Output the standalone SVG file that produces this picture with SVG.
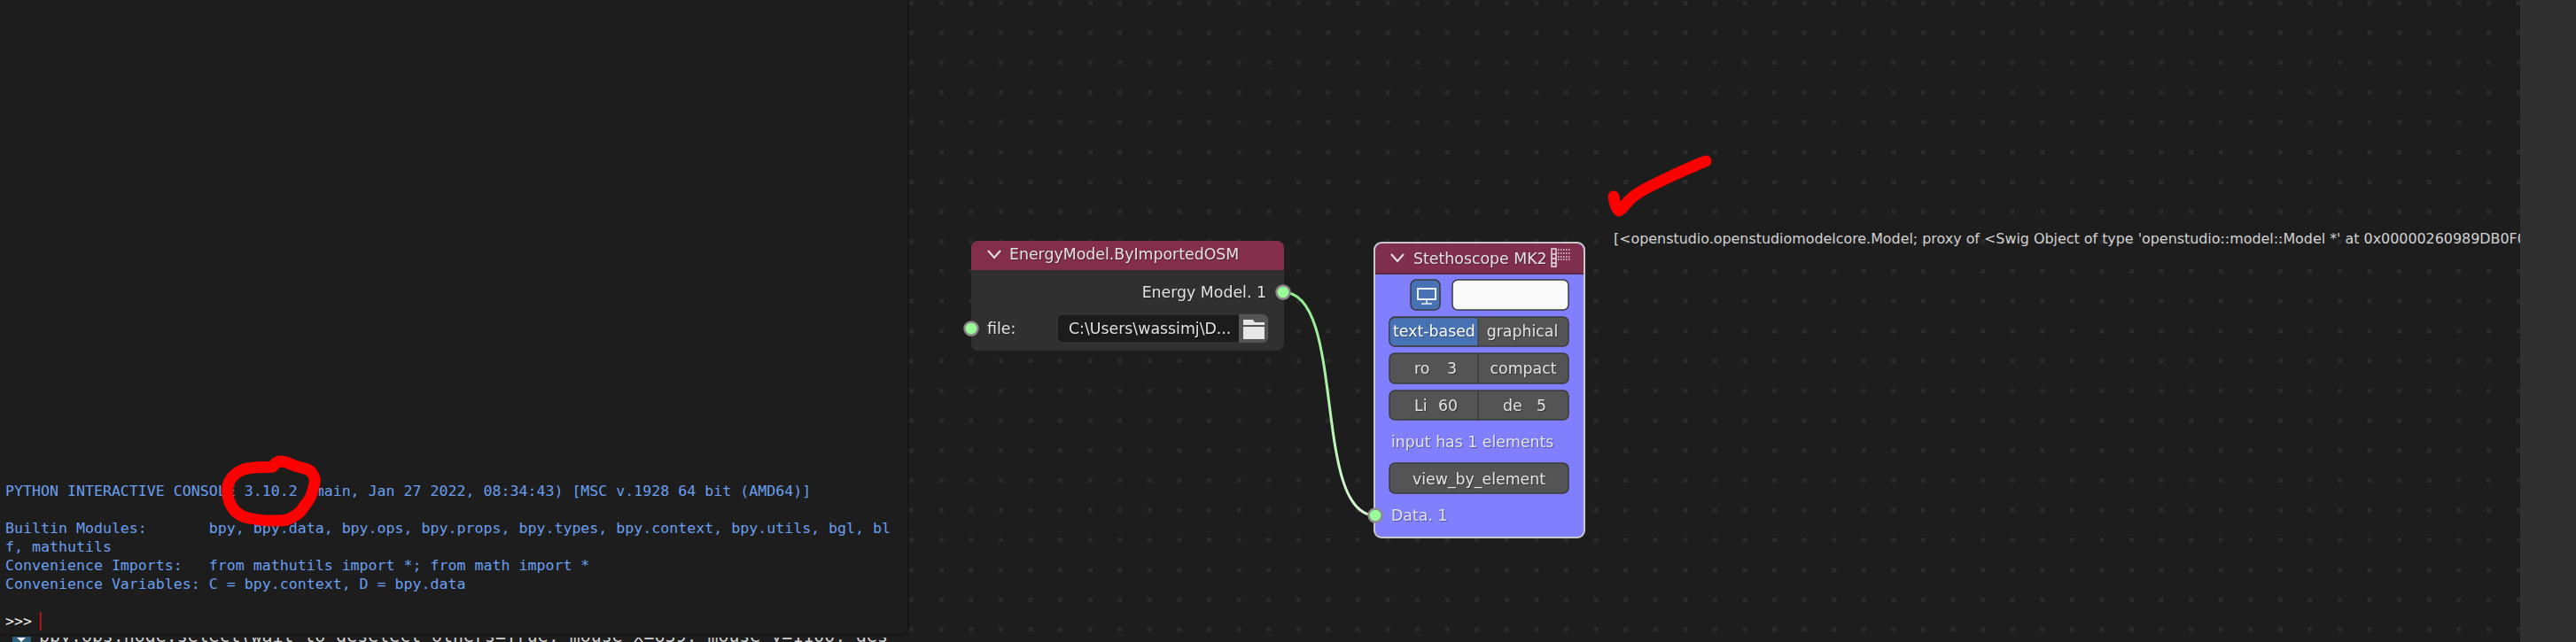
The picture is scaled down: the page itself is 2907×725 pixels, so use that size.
<svg xmlns="http://www.w3.org/2000/svg" width="2907" height="725" viewBox="0 0 2907 725">
<style>
.ui{font-family:"DejaVu Sans","Liberation Sans",sans-serif;font-size:17.35px;fill:#e2e2e2;filter:drop-shadow(1px 1px 0.6px rgba(0,0,0,.35))}
.mid{text-anchor:middle}
.con{font-family:"DejaVu Sans Mono","Liberation Mono",monospace;font-size:16.6px;fill:#6a9fee;white-space:pre}
.btn{fill:#545454;stroke:#3a3a3a;stroke-width:1.5}
.sock{fill:#99ff99;stroke:#8c8c8c;stroke-width:2.5}
.ink{fill:none;stroke:#ff0000;stroke-width:13;stroke-linecap:round;stroke-linejoin:round}
.chev{fill:none;stroke:#e2e2e2;stroke-width:2}
</style>
<defs>
<pattern id="dots" x="1059.8" y="0.8" width="33.58" height="33.7" patternUnits="userSpaceOnUse"><rect width="5" height="5" fill="#2a2a2a"/></pattern>
<linearGradient id="wire" gradientUnits="userSpaceOnUse" x1="1448" y1="330" x2="1552" y2="582"><stop offset="0" stop-color="#8fec8a"/><stop offset="1" stop-color="#d8f8d2"/></linearGradient>
<clipPath id="editorClip"><rect x="1025" y="0" width="1819" height="725"/></clipPath>
<clipPath id="infoClip"><rect x="0" y="720" width="1025" height="5"/></clipPath>
</defs>
<rect id="background" width="2907" height="725" fill="#1d1d1d"/>
<rect id="grid" x="1025" width="1819" height="725" fill="url(#dots)"/>
<rect id="sidebar" x="2844" width="63" height="725" fill="#303030"/>

<g id="console">
<rect x="-10" y="-10" width="1035" height="727" rx="9" fill="#1d1d1d" stroke="#151515" stroke-width="1.5"/>
<text class="con" x="6" y="560">PYTHON INTERACTIVE CONSOLE 3.10.2 (main, Jan 27 2022, 08:34:43) [MSC v.1928 64 bit (AMD64)]</text>
<text class="con" x="6" y="602">Builtin Modules:       bpy, bpy.data, bpy.ops, bpy.props, bpy.types, bpy.context, bpy.utils, bgl, bl</text>
<text class="con" x="6" y="623">f, mathutils</text>
<text class="con" x="6" y="644">Convenience Imports:   from mathutils import *; from math import *</text>
<text class="con" x="6" y="665">Convenience Variables: C = bpy.context, D = bpy.data</text>
<text class="con" x="6" y="707" style="fill:#f0f0f0">&gt;&gt;&gt;</text>
<rect x="45" y="691" width="1.5" height="21" fill="#e01010"/>
</g>

<g id="info-line">
<rect x="14" y="719" width="21" height="6" fill="#2c5f7c"/>
<path d="M19 720h10l-5 5z" fill="#f0f0f0"/>
<g clip-path="url(#infoClip)">
<text x="44" y="725" style="font-family:'DejaVu Sans Mono','Liberation Mono',monospace;font-size:19.9px;fill:#d0d0d0">bpy.ops.node.select(wait_to_deselect_others=True, mouse_x=639, mouse_y=1100, des</text>
</g>
</g>

<g id="connectors">
<path d="M1448 330C1520 330 1480 582 1552 582" fill="none" stroke="url(#wire)" stroke-width="3"/>
</g>

<g id="node-energy-model">
<rect x="1096" y="272" width="353" height="124" rx="8" fill="#303030"/>
<path d="M1096 305v-25a8 8 0 0 1 8-8h337a8 8 0 0 1 8 8v25z" fill="#832f4c"/>
<path class="chev" d="M1115 283l7 8l7-8"/>
<text class="ui" x="1139" y="293">EnergyModel.ByImportedOSM</text>
<text class="ui" x="1429" y="336" text-anchor="end">Energy Model. 1</text>
<text class="ui" x="1114" y="377">file:</text>
<rect x="1193" y="355" width="238" height="32" rx="6" fill="#1c1c1c" stroke="#3c3c3c"/>
<path d="M1398 355h27a6 6 0 0 1 6 6v20a6 6 0 0 1-6 6h-27z" fill="#545454"/>
<path d="M1403 361h11l2 3h11v3h-24zM1403 369h24v14h-24z" fill="#e6e6e6"/>
<text class="ui" x="1206" y="377">C:\Users\wassimj\D...</text>
<circle class="sock" cx="1096" cy="371" r="7.500"/>
<circle class="sock" cx="1448" cy="330" r="7.500"/>
</g>

<g id="node-stethoscope">
<rect x="1551" y="274" width="237" height="333" rx="8" fill="#8080ff" stroke="#c8c8c8" stroke-width="2"/>
<path d="M1552 309v-26a8 8 0 0 1 8-8h219a8 8 0 0 1 8 8v26z" fill="#7f2f4d"/>
<rect x="1552" y="308" width="235" height="2" fill="#5a2a4a"/>
<path class="chev" d="M1570 287l7 8l7-8"/>
<text class="ui" x="1595" y="298">Stethoscope MK2</text>
<path d="M1751 281h5v20h-5zM1751 287h5M1751 292h5M1751 297h5" fill="none" stroke="#e8dfe4" stroke-width="1.5"/>
<path d="M1758 282h15M1758 286h15M1758 290h15M1758 293h15" fill="none" stroke="#e8dfe4" stroke-width="1.5" stroke-dasharray="1.5 1.5"/>
<rect x="1592" y="316" width="33" height="34" rx="6" fill="#4772b3" stroke="#3a3a3a" stroke-width="1.5"/>
<rect x="1600" y="326" width="20" height="12" fill="none" stroke="#f0f0f0" stroke-width="2"/>
<path d="M1610 338v5M1604 343h12" stroke="#f0f0f0" stroke-width="1.5" fill="none"/>
<rect x="1639" y="316" width="131" height="34" rx="6" fill="#f9f9f9" stroke="#3a3a3a" stroke-width="1.5"/>
<rect class="btn" x="1568" y="358" width="202" height="33" rx="6"/>
<path d="M1668 358.700h-94a6 6 0 0 0-6 6v20a6 6 0 0 0 6 6h94z" fill="#4772b3" stroke="#3a3a3a" stroke-width="1"/>
<text class="ui" x="1572" y="380" style="fill:#fff">text-based</text>
<text class="ui mid" x="1718" y="380">graphical</text>
<rect class="btn" x="1568" y="399" width="202" height="34" rx="6"/>
<path d="M1668 399v34" stroke="#3a3a3a" stroke-width="1.5"/>
<text class="ui" y="422"><tspan x="1596">ro</tspan><tspan x="1633">3</tspan></text>
<text class="ui mid" x="1719" y="422">compact</text>
<rect class="btn" x="1568" y="441" width="202" height="33" rx="6"/>
<path d="M1668 441v33" stroke="#3a3a3a" stroke-width="1.5"/>
<text class="ui" y="464"><tspan x="1596">Li</tspan><tspan x="1623">60</tspan></text>
<text class="ui" y="464"><tspan x="1696">de</tspan><tspan x="1734">5</tspan></text>
<text class="ui" x="1570" y="505">input has 1 elements</text>
<rect class="btn" x="1568" y="523" width="202" height="34" rx="6"/>
<text class="ui mid" x="1669" y="547">view_by_element</text>
<text class="ui" x="1570" y="588">Data. 1</text>
<circle class="sock" cx="1552" cy="582" r="7.500"/>
</g>

<g id="output-text" clip-path="url(#editorClip)">
<text x="1821" y="274.500" style="font-family:'DejaVu Sans','Liberation Sans',sans-serif;font-size:15.900px;fill:#d2d2d2">[&lt;openstudio.openstudiomodelcore.Model; proxy of &lt;Swig Object of type 'openstudio::model::Model *' at 0x00000260989DB0F0&gt;]</text>
</g>

<g id="annotations">
<path class="ink" d="M308 527C300 528 285 527 275 530C265 534 259 540 257 549C256 556 257 562 259 567C262 575 268 582 280 585C290 587 298 588 307 588C318 588 325 588 330 584C338 580 341 576 343 572C348 566 351 562 352 557C354 550 356 545 355 540C353 534 351 532 347 530C340 528 335 527 330 525C326 523 323 521 316 521C312 521 310 524 308 527Z"/>
<path class="ink" d="M1925 182C1921 184 1919 184 1917 185L1890 197L1867 208C1855 214 1849 217 1843 222C1836 228 1832 234 1827 238C1824 235 1822 229 1821 222"/>
</g>
</svg>
